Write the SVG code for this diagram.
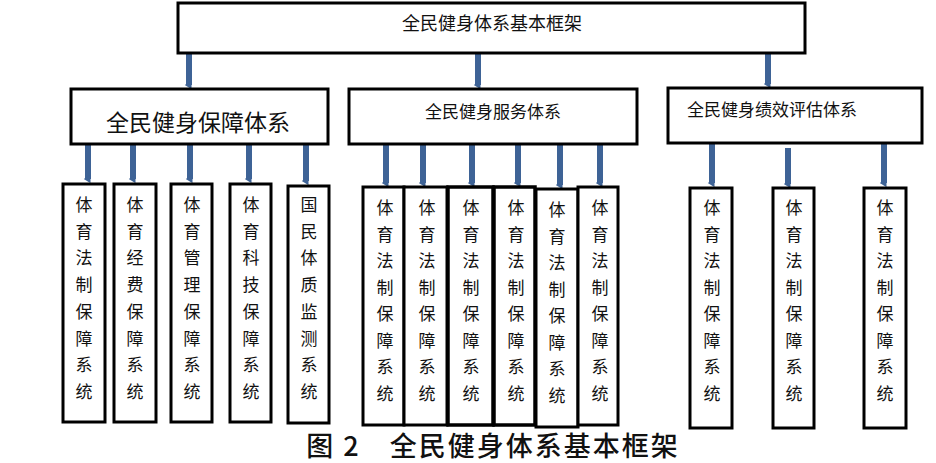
<svg xmlns="http://www.w3.org/2000/svg" width="936" height="463" viewBox="0 0 936 463">
<style>
.box{fill:#fff;stroke:#000;stroke-width:3}
.t{font-family:"Noto Sans CJK SC","Noto Sans",sans-serif;fill:#111;text-anchor:middle}
.v{font-family:"Noto Sans CJK SC","Noto Sans",sans-serif;fill:#111;text-anchor:middle;font-size:17px}
.c{stroke:#3e6396;stroke-width:6;fill:none;marker-end:url(#ah)}
</style>
<defs>
<marker id="ah" viewBox="0 0 10 10" refX="5" refY="3" markerWidth="1.4" markerHeight="1.4" orient="auto">
<path d="M0,0 L10,0 L5,8 Z" fill="#3e6396"/>
</marker>
</defs>
<rect width="936" height="463" fill="#fff"/>
<g id="connectors">
<line class="c" x1="189" y1="53" x2="189" y2="85"/>
<line class="c" x1="478" y1="53" x2="478" y2="85"/>
<line class="c" x1="768" y1="53" x2="768" y2="84"/>
<line class="c" x1="88" y1="145" x2="88" y2="179"/>
<line class="c" x1="133" y1="145" x2="133" y2="179"/>
<line class="c" x1="190" y1="145" x2="190" y2="179"/>
<line class="c" x1="249" y1="145" x2="249" y2="179"/>
<line class="c" x1="306" y1="145" x2="306" y2="181"/>
<line class="c" x1="386" y1="145" x2="386" y2="183"/>
<line class="c" x1="423" y1="145" x2="423" y2="183"/>
<line class="c" x1="472" y1="145" x2="472" y2="183"/>
<line class="c" x1="518" y1="145" x2="518" y2="183"/>
<line class="c" x1="560" y1="145" x2="560" y2="185"/>
<line class="c" x1="600" y1="145" x2="600" y2="183"/>
<line class="c" x1="712" y1="144" x2="712" y2="183"/>
<line class="c" x1="788" y1="148" x2="788" y2="184"/>
<line class="c" x1="884" y1="144" x2="884" y2="183"/>
</g>
<g id="root"><rect class="box" x="178" y="3" width="627" height="50"/><text class="t" x="492" y="30" font-size="18">全民健身体系基本框架</text></g>
<g id="n-baozhang"><rect class="box" x="71" y="89" width="257" height="55"/><text class="t" x="198" y="131" font-size="23">全民健身保障体系</text></g>
<g id="n-fuwu"><rect class="box" x="349" y="89" width="288" height="55"/><text class="t" x="493" y="118" font-size="17">全民健身服务体系</text></g>
<g id="n-pinggu"><rect class="box" x="668" y="88" width="254" height="55"/><text class="t" x="772" y="116" font-size="17">全民健身绩效评估体系</text></g>

<g id="l1"><rect class="box" x="63" y="184" width="42" height="238"/><text class="v" x="84" y="211"><tspan x="84">体</tspan><tspan x="84" dy="26.7">育</tspan><tspan x="84" dy="26.7">法</tspan><tspan x="84" dy="26.7">制</tspan><tspan x="84" dy="26.7">保</tspan><tspan x="84" dy="26.7">障</tspan><tspan x="84" dy="26.7">系</tspan><tspan x="84" dy="26.7">统</tspan></text></g>
<g id="l2"><rect class="box" x="114" y="184" width="42" height="238"/><text class="v" x="135" y="211"><tspan x="135">体</tspan><tspan x="135" dy="26.7">育</tspan><tspan x="135" dy="26.7">经</tspan><tspan x="135" dy="26.7">费</tspan><tspan x="135" dy="26.7">保</tspan><tspan x="135" dy="26.7">障</tspan><tspan x="135" dy="26.7">系</tspan><tspan x="135" dy="26.7">统</tspan></text></g>
<g id="l3"><rect class="box" x="171" y="184" width="41" height="238"/><text class="v" x="192" y="211"><tspan x="192">体</tspan><tspan x="192" dy="26.7">育</tspan><tspan x="192" dy="26.7">管</tspan><tspan x="192" dy="26.7">理</tspan><tspan x="192" dy="26.7">保</tspan><tspan x="192" dy="26.7">障</tspan><tspan x="192" dy="26.7">系</tspan><tspan x="192" dy="26.7">统</tspan></text></g>
<g id="l4"><rect class="box" x="230" y="184" width="41" height="238"/><text class="v" x="251" y="211"><tspan x="251">体</tspan><tspan x="251" dy="26.7">育</tspan><tspan x="251" dy="26.7">科</tspan><tspan x="251" dy="26.7">技</tspan><tspan x="251" dy="26.7">保</tspan><tspan x="251" dy="26.7">障</tspan><tspan x="251" dy="26.7">系</tspan><tspan x="251" dy="26.7">统</tspan></text></g>
<g id="l5"><rect class="box" x="288" y="186" width="41" height="237"/><text class="v" x="309" y="211"><tspan x="309">国</tspan><tspan x="309" dy="26.7">民</tspan><tspan x="309" dy="26.7">体</tspan><tspan x="309" dy="26.7">质</tspan><tspan x="309" dy="26.7">监</tspan><tspan x="309" dy="26.7">测</tspan><tspan x="309" dy="26.7">系</tspan><tspan x="309" dy="26.7">统</tspan></text></g>

<g id="m1"><rect class="box" x="363" y="187" width="41" height="238"/><text class="v" x="385" y="214"><tspan x="385">体</tspan><tspan x="385" dy="26.5">育</tspan><tspan x="385" dy="26.5">法</tspan><tspan x="385" dy="26.5">制</tspan><tspan x="385" dy="26.5">保</tspan><tspan x="385" dy="26.5">障</tspan><tspan x="385" dy="26.5">系</tspan><tspan x="385" dy="26.5">统</tspan></text></g>
<g id="m2"><rect class="box" x="404" y="187" width="43" height="238"/><text class="v" x="427" y="214"><tspan x="427">体</tspan><tspan x="427" dy="26.5">育</tspan><tspan x="427" dy="26.5">法</tspan><tspan x="427" dy="26.5">制</tspan><tspan x="427" dy="26.5">保</tspan><tspan x="427" dy="26.5">障</tspan><tspan x="427" dy="26.5">系</tspan><tspan x="427" dy="26.5">统</tspan></text></g>
<g id="m3"><rect class="box" x="448" y="187" width="45" height="238" style="stroke-width:3.5"/><text class="v" x="471" y="214"><tspan x="471">体</tspan><tspan x="471" dy="26.5">育</tspan><tspan x="471" dy="26.5">法</tspan><tspan x="471" dy="26.5">制</tspan><tspan x="471" dy="26.5">保</tspan><tspan x="471" dy="26.5">障</tspan><tspan x="471" dy="26.5">系</tspan><tspan x="471" dy="26.5">统</tspan></text></g>
<g id="m4"><rect class="box" x="494" y="187" width="41" height="238" style="stroke-width:3.5"/><text class="v" x="516" y="214"><tspan x="516">体</tspan><tspan x="516" dy="26.5">育</tspan><tspan x="516" dy="26.5">法</tspan><tspan x="516" dy="26.5">制</tspan><tspan x="516" dy="26.5">保</tspan><tspan x="516" dy="26.5">障</tspan><tspan x="516" dy="26.5">系</tspan><tspan x="516" dy="26.5">统</tspan></text></g>
<g id="m5"><rect class="box" x="536" y="189" width="42" height="238"/><text class="v" x="557" y="216"><tspan x="557">体</tspan><tspan x="557" dy="26.5">育</tspan><tspan x="557" dy="26.5">法</tspan><tspan x="557" dy="26.5">制</tspan><tspan x="557" dy="26.5">保</tspan><tspan x="557" dy="26.5">障</tspan><tspan x="557" dy="26.5">系</tspan><tspan x="557" dy="26.5">统</tspan></text></g>
<g id="m6"><rect class="box" x="578" y="187" width="40" height="238"/><text class="v" x="600" y="214"><tspan x="600">体</tspan><tspan x="600" dy="26.5">育</tspan><tspan x="600" dy="26.5">法</tspan><tspan x="600" dy="26.5">制</tspan><tspan x="600" dy="26.5">保</tspan><tspan x="600" dy="26.5">障</tspan><tspan x="600" dy="26.5">系</tspan><tspan x="600" dy="26.5">统</tspan></text></g>

<g id="r1"><rect class="box" x="690" y="188" width="42" height="240"/><text class="v" x="712" y="214"><tspan x="712">体</tspan><tspan x="712" dy="26.5">育</tspan><tspan x="712" dy="26.5">法</tspan><tspan x="712" dy="26.5">制</tspan><tspan x="712" dy="26.5">保</tspan><tspan x="712" dy="26.5">障</tspan><tspan x="712" dy="26.5">系</tspan><tspan x="712" dy="26.5">统</tspan></text></g>
<g id="r2"><rect class="box" x="773" y="188" width="41" height="240"/><text class="v" x="794" y="214"><tspan x="794">体</tspan><tspan x="794" dy="26.5">育</tspan><tspan x="794" dy="26.5">法</tspan><tspan x="794" dy="26.5">制</tspan><tspan x="794" dy="26.5">保</tspan><tspan x="794" dy="26.5">障</tspan><tspan x="794" dy="26.5">系</tspan><tspan x="794" dy="26.5">统</tspan></text></g>
<g id="r3"><rect class="box" x="864" y="188" width="42" height="240"/><text class="v" x="885" y="214"><tspan x="885">体</tspan><tspan x="885" dy="26.5">育</tspan><tspan x="885" dy="26.5">法</tspan><tspan x="885" dy="26.5">制</tspan><tspan x="885" dy="26.5">保</tspan><tspan x="885" dy="26.5">障</tspan><tspan x="885" dy="26.5">系</tspan><tspan x="885" dy="26.5">统</tspan></text></g>

<text class="t" x="493" y="456" font-size="27" font-weight="500" letter-spacing="2">图 2　全民健身体系基本框架</text>
</svg>
